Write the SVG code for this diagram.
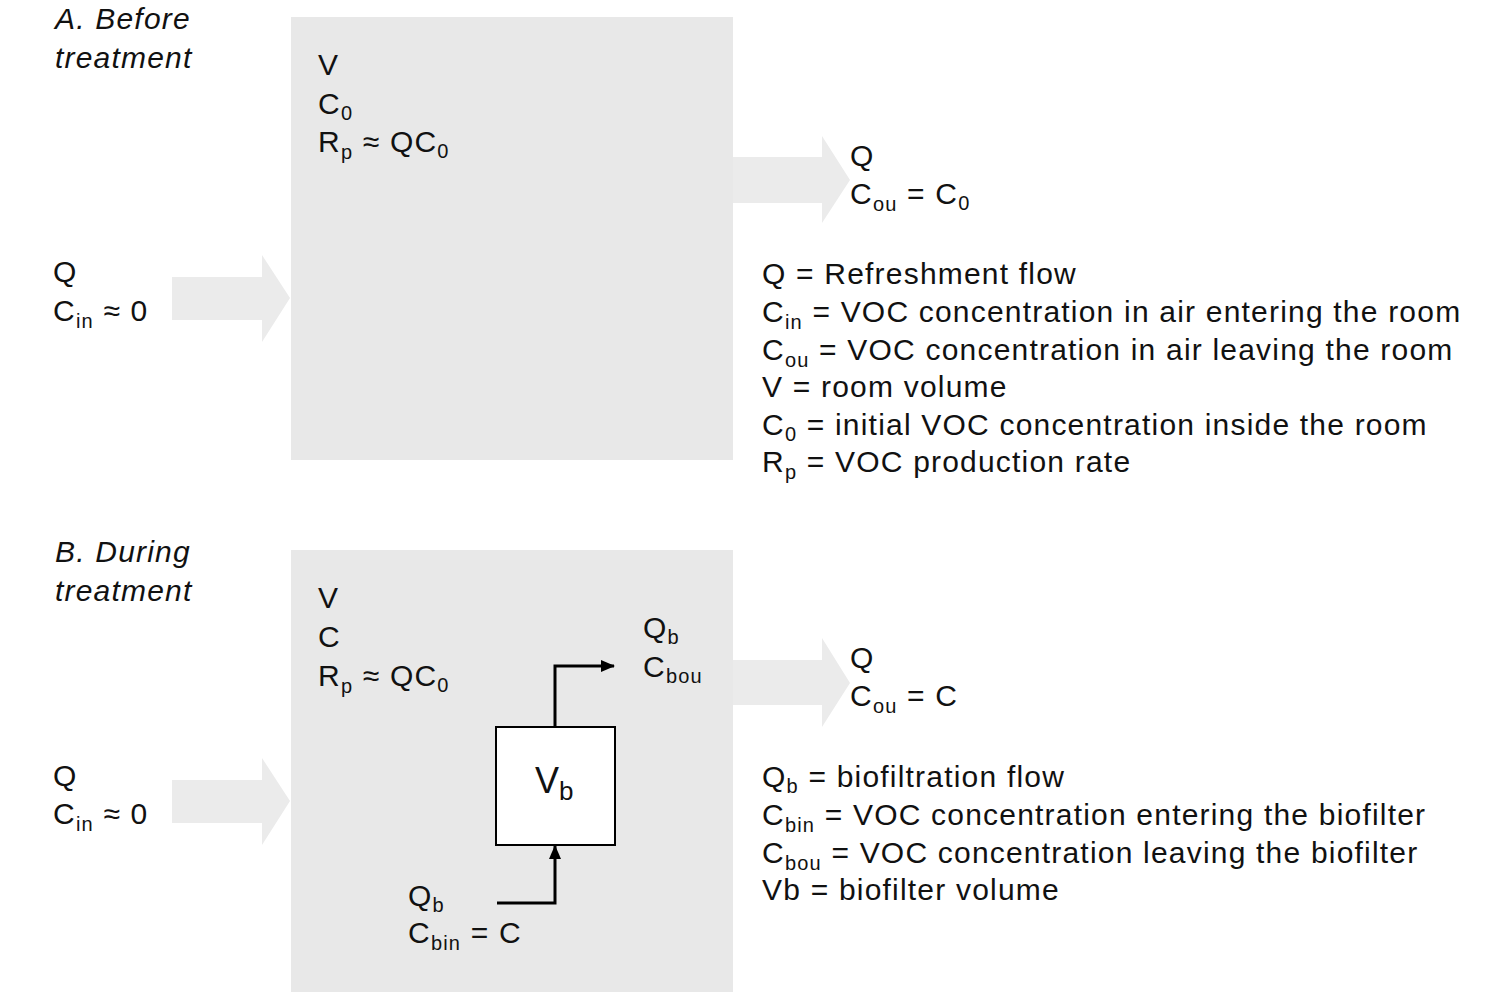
<svg xmlns="http://www.w3.org/2000/svg" width="1503" height="1002" viewBox="0 0 1503 1002">
<defs>
<style>
text{font-family:"Liberation Sans",Arial,sans-serif;font-size:30px;letter-spacing:1.2px;fill:#111}
.it{font-style:italic}
.room{fill:#e8e8e8}
.flow{fill:#ebebeb}
.ln{stroke:#000;stroke-width:3;fill:none}
</style>
<marker id="ah" markerWidth="14" markerHeight="14" refX="13" refY="7" orient="auto" markerUnits="userSpaceOnUse" viewBox="0 0 14 14"><path d="M0,1 L14,7 L0,13z" fill="#000"/></marker>
</defs>
<rect width="1503" height="1002" fill="#fff"/>
<g id="partA">
<text class="it" x="55" y="29">A. Before</text>
<text class="it" x="55" y="68">treatment</text>
<g id="roomA"><rect class="room" x="291" y="17" width="442" height="443"/>
<text x="318" y="75">V</text>
<text x="318" y="114">C<tspan font-size="20" dy="6">0</tspan></text>
<text x="318" y="152">R<tspan font-size="20" dy="7">p</tspan><tspan dy="-7"> ≈ QC</tspan><tspan font-size="20" dy="6">0</tspan></text></g>
<g id="inA"><path class="flow" d="M172,277 H262 V255 L290,298 L262,342 V320 H172z"/>
<text x="53" y="282">Q</text>
<text x="53" y="321">C<tspan font-size="20" dy="7">in</tspan><tspan dy="-7"> ≈ 0</tspan></text></g>
<g id="outA"><path class="flow" d="M733,157 H822 V136 L850,180 L822,223 V203 H733z"/>
<text x="850" y="166">Q</text>
<text x="850" y="204">C<tspan font-size="20" dy="7">ou</tspan><tspan dy="-7"> = C</tspan><tspan font-size="20" dy="6">0</tspan></text></g>
<g id="legendA">
<text x="762" y="284">Q = Refreshment flow</text>
<text x="762" y="322">C<tspan font-size="20" dy="7">in</tspan><tspan dy="-7"> = VOC concentration in air entering the room</tspan></text>
<text x="762" y="360">C<tspan font-size="20" dy="7">ou</tspan><tspan dy="-7"> = VOC concentration in air leaving the room</tspan></text>
<text x="762" y="397">V = room volume</text>
<text x="762" y="435">C<tspan font-size="20" dy="6">0</tspan><tspan dy="-6"> = initial VOC concentration inside the room</tspan></text>
<text x="762" y="472">R<tspan font-size="20" dy="7">p</tspan><tspan dy="-7"> = VOC production rate</tspan></text></g>
</g>
<g id="partB">
<text class="it" x="55" y="562">B. During</text>
<text class="it" x="55" y="601">treatment</text>
<g id="roomB"><rect class="room" x="291" y="550" width="442" height="442"/>
<text x="318" y="608">V</text>
<text x="318" y="647">C</text>
<text x="318" y="686">R<tspan font-size="20" dy="7">p</tspan><tspan dy="-7"> ≈ QC</tspan><tspan font-size="20" dy="6">0</tspan></text></g>
<g id="inB"><path class="flow" d="M172,780 H262 V758 L290,801 L262,845 V823 H172z"/>
<text x="53" y="786">Q</text>
<text x="53" y="824">C<tspan font-size="20" dy="7">in</tspan><tspan dy="-7"> ≈ 0</tspan></text></g>
<g id="outB"><path class="flow" d="M733,660 H822 V638 L850,683 L822,727 V705 H733z"/>
<text x="850" y="668">Q</text>
<text x="850" y="706">C<tspan font-size="20" dy="7">ou</tspan><tspan dy="-7"> = C</tspan></text></g>
<g id="biofilter"><rect x="496" y="727" width="119" height="118" fill="#fff" stroke="#000" stroke-width="2"/>
<text x="535" y="793" style="font-size:36px;letter-spacing:0">V<tspan font-size="26" dy="7">b</tspan></text></g>
<text x="643" y="638">Q<tspan font-size="20" dy="6">b</tspan></text>
<text x="643" y="677">C<tspan font-size="20" dy="6">bou</tspan></text>
<text x="408" y="906">Q<tspan font-size="20" dy="6">b</tspan></text>
<text x="408" y="943">C<tspan font-size="20" dy="7">bin</tspan><tspan dy="-7"> = C</tspan></text>
<g id="legendB">
<text x="762" y="787">Q<tspan font-size="20" dy="6">b</tspan><tspan dy="-6"> = biofiltration flow</tspan></text>
<text x="762" y="825">C<tspan font-size="20" dy="7">bin</tspan><tspan dy="-7"> = VOC concentration entering the biofilter</tspan></text>
<text x="762" y="863">C<tspan font-size="20" dy="7">bou</tspan><tspan dy="-7"> = VOC concentration leaving the biofilter</tspan></text>
<text x="762" y="900">Vb = biofilter volume</text></g>
</g>
<g id="connectors">
<path class="ln" d="M555,727 V666 H614" marker-end="url(#ah)"/>
<path class="ln" d="M497,903 H555 V846" marker-end="url(#ah)"/>
</g>
</svg>
